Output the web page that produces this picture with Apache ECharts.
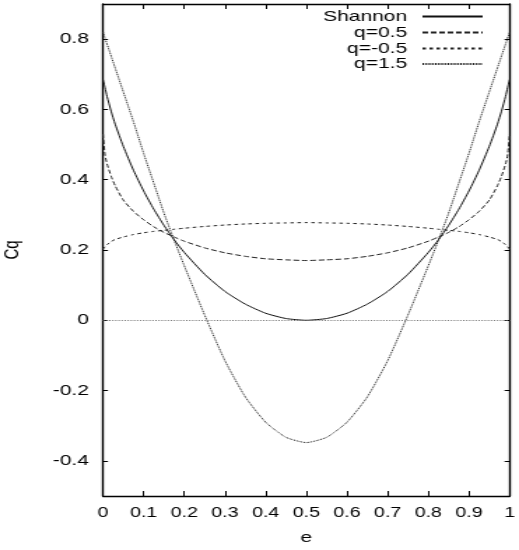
<!DOCTYPE html>
<html>
<head>
<meta charset="utf-8">
<title>Cq vs e</title>
<script src="https://cdn.jsdelivr.net/npm/echarts@6/dist/echarts.min.js"></script>
<style>
    html, body { margin: 0; padding: 0; background: #fff; }
    /* gnuplot text is wide, so the whole chart is stretched sideways */
    #main { width: 371px; height: 550px; transform: scaleX(1.3989); transform-origin: 0 0; }
</style>
</head>
<body>
<div id="main"></div>
<script>
// e 取值
var eVals = [0, 0.005, 0.01, 0.02, 0.03, 0.05, 0.075, 0.1, 0.125, 0.15, 0.175, 0.2, 0.25, 0.3, 0.35, 0.4, 0.45,
             0.5,
             0.55, 0.6, 0.65, 0.7, 0.75, 0.8, 0.825, 0.85, 0.875, 0.9, 0.925, 0.95, 0.97, 0.98, 0.99, 0.995, 1];
// 各曲线读数
var shannon = [0.685, 0.662, 0.637, 0.595, 0.558, 0.495, 0.427, 0.368, 0.316, 0.270, 0.229, 0.193, 0.131, 0.082, 0.046, 0.020, 0.005,
               0,
               0.005, 0.020, 0.046, 0.082, 0.131, 0.193, 0.229, 0.270, 0.316, 0.368, 0.427, 0.495, 0.558, 0.595, 0.637, 0.662, 0.685];
var qHalf = [0.53, 0.47, 0.445, 0.41, 0.383, 0.342, 0.310, 0.286, 0.266, 0.250, 0.237, 0.225, 0.206, 0.192, 0.182, 0.175, 0.172,
             0.170,
             0.172, 0.175, 0.182, 0.192, 0.206, 0.225, 0.237, 0.250, 0.266, 0.286, 0.310, 0.342, 0.383, 0.41, 0.445, 0.47, 0.53];
var qMinusHalf = [0.203, 0.209, 0.215, 0.224, 0.230, 0.237, 0.244, 0.249, 0.253, 0.256, 0.259, 0.262, 0.267, 0.271, 0.274, 0.276, 0.277,
                  0.278,
                  0.277, 0.276, 0.274, 0.271, 0.267, 0.262, 0.259, 0.256, 0.253, 0.249, 0.244, 0.237, 0.230, 0.224, 0.215, 0.209, 0.203];
var qOneHalf = [0.82, 0.803, 0.786, 0.752, 0.718, 0.65, 0.565, 0.475, 0.39, 0.305, 0.228, 0.155, 0.015, -0.115, -0.218, -0.29, -0.333,
                -0.348,
                -0.333, -0.29, -0.218, -0.115, 0.015, 0.155, 0.228, 0.305, 0.39, 0.475, 0.565, 0.65, 0.718, 0.752, 0.786, 0.803, 0.82];
var names = ['Shannon', 'q=0.5', 'q=-0.5', 'q=1.5'];
var yTicks = [-0.4, -0.2, 0, 0.2, 0.4, 0.6, 0.8];

var font = 'Liberation Sans';

function pairs(vals) {
    var out = [];
    for (var i = 0; i < eVals.length; i++) {
        out.push([eVals[i], vals[i]]);
    }
    return out;
}

function lineSeries(name, vals, dash, color) {
    return {
        name: name,
        type: 'line',
        xAxisIndex: 0,
        yAxisIndex: 0,
        data: pairs(vals),
        symbol: 'none',
        smooth: 0.2,
        lineStyle: { color: color, width: 1, type: dash },
        itemStyle: { color: color }
    };
}

// 图例: 每行一个, 右对齐
var legendRows = [9, 25, 41, 56.5];
var legends = [];
for (var i = 0; i < names.length; i++) {
    legends.push({
        data: [names[i]],
        right: 25,
        top: legendRows[i],
        orient: 'vertical',
        align: 'right',
        padding: 0,
        itemWidth: 43,
        itemHeight: 14,
        selectedMode: false,
        itemStyle: { opacity: 0 },
        textStyle: { fontFamily: font, fontSize: 15, color: '#000', padding: [0, 6, 0, 0] }
    });
}

var xCommon = {
    type: 'value',
    min: 0,
    max: 1,
    interval: 0.1,
    splitLine: { show: false },
    axisLine: { onZero: false, lineStyle: { color: '#000', width: 1.4 } },
    axisTick: { inside: true, length: 5, lineStyle: { color: '#000', width: 1 } }
};
var yCommon = {
    type: 'value',
    min: -0.5,
    max: 0.9,
    splitLine: { show: false },
    axisLine: { onZero: false, lineStyle: { color: '#000', width: 1.4 } },
    axisTick: { inside: true, length: 3.6, customValues: yTicks, lineStyle: { color: '#000', width: 1 } }
};

var chart = echarts.init(document.getElementById('main'));
chart.setOption({
    animation: false,
    backgroundColor: '#fff',
    grid: { left: 73.6, right: 6.7, top: 4, bottom: 54, outerBoundsMode: 'none', containLabel: false },
    legend: legends,
    xAxis: [
        Object.assign({}, xCommon, {
            position: 'bottom',
            name: 'e',
            nameLocation: 'middle',
            nameGap: 34,
            nameTextStyle: { fontFamily: font, fontSize: 15, color: '#000' },
            axisLabel: { margin: 10, fontFamily: font, fontSize: 14, color: '#000' }
        }),
        Object.assign({}, xCommon, { position: 'top', axisLabel: { show: false } })
    ],
    yAxis: [
        Object.assign({}, yCommon, {
            position: 'left',
            name: 'Cq',
            nameLocation: 'middle',
            nameGap: 57,
            nameTextStyle: { fontFamily: font, fontSize: 15, color: '#000' },
            axisLabel: { margin: 10, customValues: yTicks, fontFamily: font, fontSize: 15, color: '#000' }
        }),
        Object.assign({}, yCommon, { position: 'right', axisLabel: { show: false } })
    ],
    series: [
        Object.assign(lineSeries(names[0], shannon, 'solid', '#111'), {
            // 零线
            markLine: {
                silent: true,
                symbol: 'none',
                label: { show: false },
                lineStyle: { color: '#777', width: 1, type: [1, 1.2] },
                data: [{ yAxis: 0 }]
            }
        }),
        lineSeries(names[1], qHalf, [4, 2], '#222'),
        lineSeries(names[2], qMinusHalf, [2.5, 2.5], '#222'),
        lineSeries(names[3], qOneHalf, [1, 0.8], '#222')
    ]
});
</script>
</body>
</html>
